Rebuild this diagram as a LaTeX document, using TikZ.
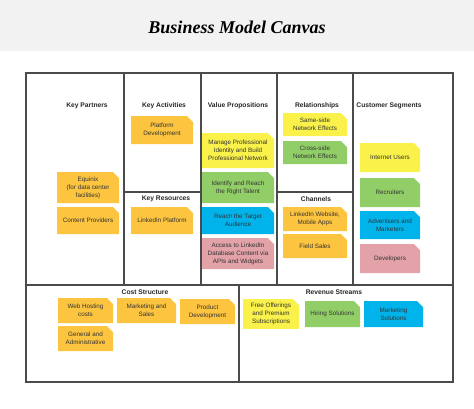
\documentclass[tikz,border=0pt]{standalone}
\usepackage{fontspec}
\setmainfont{Liberation Sans}
\newfontfamily\titlefont{Liberation Serif}
\usepackage{xcolor}
\usepackage{tikz}
\usetikzlibrary{shapes.misc, positioning}
\definecolor{titlegray}{RGB}{242, 242, 242}
\definecolor{framegray}{RGB}{75, 75, 75}
\definecolor{noteorange}{RGB}{253, 196, 64}
\definecolor{noteyellow}{RGB}{250, 242, 74}
\definecolor{notegreen}{RGB}{146, 206, 104}
\definecolor{noteblue}{RGB}{0, 180, 235}
\definecolor{notepink}{RGB}{226, 162, 168}

\begin{document}
\begin{tikzpicture}[x=1pt, y=-1pt,
    frame/.style={draw=framegray, line width=1.1pt},
    head/.style={font=\bfseries\fontsize{6.7}{8}\selectfont, text=black!85},
    note/.style={chamfered rectangle, chamfered rectangle corners=north east,
        chamfered rectangle xsep=3pt, chamfered rectangle ysep=3pt,
        inner sep=1pt, align=center, text=black!80,
        font=\fontsize{6.3}{8}\selectfont}]

    \useasboundingbox (0,0) rectangle (474,408);

    % Title band
    \fill[titlegray] (0,0) rectangle (474,51);
    \node[font=\titlefont\bfseries\itshape\fontsize{18}{20}\selectfont] at (237,27) (title) {Business Model Canvas};

    % Canvas frame
    \draw[frame] (26,73) rectangle (453,382);
    \draw[frame] (26,285) -- (453,285);
    \draw[frame] (124,73) -- (124,285);
    \draw[frame] (201,73) -- (201,285);
    \draw[frame] (277,73) -- (277,285);
    \draw[frame] (353,73) -- (353,285);
    \draw[frame] (124,192) -- (201,192);
    \draw[frame] (277,192) -- (353,192);
    \draw[frame] (239,285) -- (239,382);

    % Block titles
    \node[head] at (87,106) (kp) {Key Partners};
    \node[head] at (164,106) (ka) {Key Activities};
    \node[head] at (238,106) (vp) {Value Propositions};
    \node[head] at (317,106) (cr) {Relationships};
    \node[head] at (389,106) (cs) {Customer Segments};
    \node[head] at (166,199) (kr) {Key Resources};
    \node[head] at (316,199) (ch) {Channels};
    \node[head] at (145,292) (cost) {Cost Structure};
    \node[head] at (334,292) (rev) {Revenue Streams};

    % Key Partners
    \node[note, fill=noteorange, minimum width=62pt, minimum height=31pt] at (88,187.5) (equinix) {Equinix\\(for data center\\facilities)};
    \node[note, fill=noteorange, minimum width=62pt, minimum height=27pt] at (88,220.5) (content) {Content Providers};

    % Key Activities / Key Resources
    \node[note, fill=noteorange, minimum width=62pt, minimum height=28pt] at (162,130) (platform) {Platform\\Development};
    \node[note, fill=noteorange, minimum width=62pt, minimum height=27pt] at (162,220.5) (liplatform) {LinkedIn Platform};

    % Value Propositions
    \node[note, fill=noteyellow, minimum width=72pt, minimum height=35pt] at (238,150.5) (manage) {Manage Professional\\Identity and Build\\Professional Network};
    \node[note, fill=notegreen, minimum width=72pt, minimum height=31pt] at (238,187.5) (talent) {Identify and Reach\\the Right Talent};
    \node[note, fill=noteblue, minimum width=72pt, minimum height=27pt] at (238,220.5) (audience) {Reach the Target\\Audience};
    \node[note, fill=notepink, minimum width=72pt, minimum height=31pt] at (238,253.5) (access) {Access to LinkedIn\\Database Content via\\APIs and Widgets};

    % Relationships / Channels
    \node[note, fill=noteyellow, minimum width=64pt, minimum height=23pt] at (315,124.5) (sameside) {Same-side\\Network Effects};
    \node[note, fill=notegreen, minimum width=64pt, minimum height=23pt] at (315,152.5) (crossside) {Cross-side\\Network Effects};
    \node[note, fill=noteorange, minimum width=64pt, minimum height=24pt] at (315,219) (website) {LinkedIn Website,\\Mobile Apps};
    \node[note, fill=noteorange, minimum width=64pt, minimum height=24pt] at (315,246) (fieldsales) {Field Sales};

    % Customer Segments
    \node[note, fill=noteyellow, minimum width=60pt, minimum height=29pt] at (390,157.5) (internet) {Internet Users};
    \node[note, fill=notegreen, minimum width=60pt, minimum height=29pt] at (390,192.5) (recruiters) {Recruiters};
    \node[note, fill=noteblue, minimum width=60pt, minimum height=28pt] at (390,225) (advertisers) {Advertisers and\\Marketers};
    \node[note, fill=notepink, minimum width=60pt, minimum height=29pt] at (390,258.5) (developers) {Developers};

    % Cost Structure
    \node[note, fill=noteorange, minimum width=55pt, minimum height=25pt] at (85.5,310.5) (hosting) {Web Hosting\\costs};
    \node[note, fill=noteorange, minimum width=59pt, minimum height=25pt] at (146.5,310.5) (marketing) {Marketing and\\Sales};
    \node[note, fill=noteorange, minimum width=55pt, minimum height=25pt] at (207.5,311.5) (proddev) {Product\\Development};
    \node[note, fill=noteorange, minimum width=55pt, minimum height=25pt] at (85.5,338.5) (general) {General and\\Administrative};

    % Revenue Streams
    \node[note, fill=noteyellow, minimum width=56pt, minimum height=26pt] at (271,314) (free) {Free Offerings\\and Premium\\Subscriptions};
    \node[note, fill=notegreen, minimum width=55pt, minimum height=26pt] at (332.5,314) (hiring) {Hiring Solutions};
    \node[note, fill=noteblue, minimum width=59pt, minimum height=26pt] at (393.5,314) (mktsol) {Marketing\\Solutions};

\end{tikzpicture}
\end{document}
